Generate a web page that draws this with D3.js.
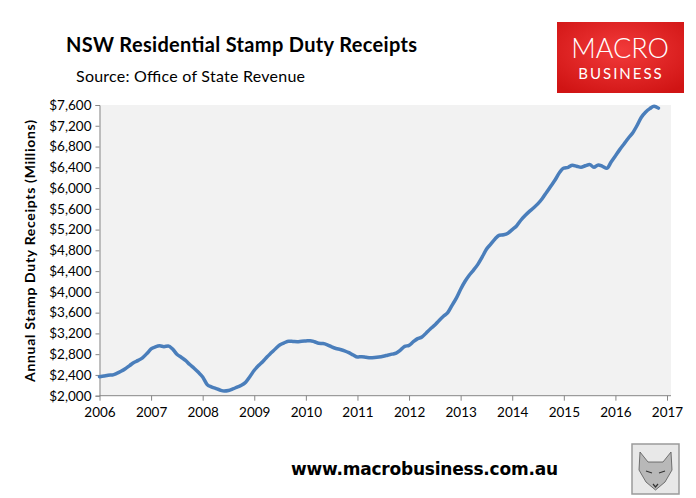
<!DOCTYPE html>
<html>
<head>
	<script src="https://cdn.jsdelivr.net/npm/d3@7"></script>
	<style>
		body { margin: 0; background: #fff; }
		text { font-family: Lato, "Open Sans", sans-serif; }
	</style>
</head>
<body>
	<script>
		// NSW residential stamp duty receipts, annual rolling, monthly ($m)
		var startYear = 2006;
		var receipts = [
			2366, 2380, 2395, 2400, 2430, 2470, 2520, 2580, 2640, 2680, 2730, 2810, // 2006
			2900, 2940, 2960, 2945, 2958, 2900, 2800, 2740, 2680, 2600, 2530, 2450, // 2007
			2360, 2220, 2170, 2140, 2110, 2090, 2100, 2130, 2165, 2200, 2260, 2370, // 2008
			2490, 2580, 2660, 2750, 2830, 2910, 2980, 3020, 3050, 3045, 3040, 3050, // 2009
			3055, 3060, 3040, 3010, 3005, 2980, 2940, 2910, 2890, 2865, 2830, 2785, // 2010
			2745, 2752, 2740, 2730, 2735, 2745, 2760, 2780, 2800, 2820, 2880, 2950, // 2011
			2970, 3040, 3100, 3130, 3210, 3290, 3360, 3450, 3530, 3600, 3740, 3880, // 2012
			4050, 4200, 4320, 4420, 4530, 4670, 4820, 4920, 5020, 5090, 5100, 5130, // 2013
			5200, 5270, 5380, 5470, 5550, 5620, 5700, 5800, 5920, 6040, 6160, 6300, // 2014
			6385, 6400, 6440, 6420, 6400, 6430, 6455, 6400, 6445, 6420, 6380, 6500, // 2015
			6620, 6740, 6850, 6960, 7060, 7200, 7360, 7460, 7530, 7575, 7540        // 2016
		];
		var yearTicks = [2006, 2007, 2008, 2009, 2010, 2011, 2012, 2013, 2014, 2015, 2016, 2017];
		var valueTicks = [2000, 2400, 2800, 3200, 3600, 4000, 4400, 4800, 5200, 5600, 6000, 6400, 6800, 7200, 7600];

		var width = 696, height = 498;

		var svg = d3.select('body').append('svg')
			.attr('width', width)
			.attr('height', height);

		var x = d3.scaleLinear().domain([2006, 2017]).range([99.5, 667]);
		var y = d3.scaleLinear().domain([2000, 7600]).range([395.7, 105]);

		// plot background
		svg.append('rect')
			.attr('x', x(2006))
			.attr('y', y(7600))
			.attr('width', 671 - x(2006))
			.attr('height', y(2000) - y(7600))
			.style('fill', '#f2f2f2');

		var fmt = function(d) { return '$' + d3.format(',')(d); };

		// y axis
		var yAxis = svg.append('g')
			.attr('transform', 'translate(' + x(2006) + ',0)')
			.call(d3.axisLeft(y).tickValues(valueTicks).tickFormat(fmt).tickSize(4).tickPadding(4));

		// x axis
		var xAxis = svg.append('g')
			.attr('transform', 'translate(0,' + y(2000) + ')')
			.call(d3.axisBottom(x).tickValues(yearTicks).tickFormat(d3.format('d')).tickSize(5).tickPadding(7));

		[yAxis, xAxis].forEach(function(a) {
			a.select('.domain').attr('stroke', '#868686');
			a.selectAll('.tick line').attr('stroke', '#868686');
			a.selectAll('.tick text')
				.style('font-size', '13.5px')
				.style('fill', '#000');
		});
		xAxis.select('.domain').attr('d', 'M' + x(2006) + ',0H671');

		// series line
		var line = d3.line()
			.x(function(d, i) { return x(startYear + i / 12); })
			.y(function(d) { return y(d); })
			.curve(d3.curveMonotoneX);

		svg.append('path')
			.datum(receipts)
			.attr('d', line)
			.style('fill', 'none')
			.style('stroke', '#4a7ebb')
			.style('stroke-width', 3.5)
			.style('stroke-linejoin', 'round')
			.style('stroke-linecap', 'round');

		// titles
		svg.append('text')
			.attr('x', 66).attr('y', 52)
			.attr('textLength', 351)
			.style('font-size', '20px')
			.style('font-weight', 'bold')
			.text('NSW Residential Stamp Duty Receipts');

		svg.append('text')
			.attr('x', 76).attr('y', 82)
			.attr('textLength', 229)
			.style('font-size', '16px')
			.text('Source: Office of State Revenue');

		svg.append('text')
			.attr('transform', 'translate(35,251) rotate(-90)')
			.attr('text-anchor', 'middle')
			.attr('textLength', 262)
			.style('font-size', '14px')
			.style('font-weight', 'bold')
			.text('Annual Stamp Duty Receipts (Millions)');

		svg.append('text')
			.attr('x', 291).attr('y', 475)
			.attr('textLength', 267)
			.style('font-family', '"DejaVu Sans", Verdana, sans-serif')
			.style('font-size', '17px')
			.style('font-weight', 'bold')
			.text('www.macrobusiness.com.au');

		// logo box
		var grad = svg.append('defs').append('radialGradient')
			.attr('id', 'logo-grad')
			.attr('cx', '50%').attr('cy', '40%').attr('r', '70%');
		grad.append('stop').attr('offset', '0%').attr('stop-color', '#f23a3a');
		grad.append('stop').attr('offset', '100%').attr('stop-color', '#d01414');

		svg.append('rect')
			.attr('x', 557).attr('y', 22)
			.attr('width', 127).attr('height', 71)
			.style('fill', 'url(#logo-grad)');

		svg.append('text')
			.attr('x', 620).attr('y', 58)
			.attr('text-anchor', 'middle')
			.style('font-size', '27px')
			.style('font-weight', '300')
			.style('fill', '#fff')
			.text('MACRO');

		svg.append('text')
			.attr('x', 621).attr('y', 79)
			.attr('text-anchor', 'middle')
			.style('font-size', '15px')
			.style('letter-spacing', '2px')
			.style('fill', '#fff')
			.text('BUSINESS');

		// small fox badge
		var badge = svg.append('g').attr('transform', 'translate(632,444)');
		badge.append('rect')
			.attr('width', 47).attr('height', 50)
			.style('fill', '#e8e8e8')
			.style('stroke', '#9a9a9a')
			.style('stroke-width', 1.5);
		badge.append('path')
			.attr('d', 'M8,8 L16,18 L31,18 L39,8 L40,26 L33,38 L23.5,46 L14,38 L7,26 Z')
			.style('fill', '#b8b8b8')
			.style('stroke', '#555')
			.style('stroke-width', 0.8);
		badge.append('path')
			.attr('d', 'M14,27 L20,29 M33,27 L27,29 M21,40 L23.5,43 L26,40')
			.style('fill', 'none')
			.style('stroke', '#333')
			.style('stroke-width', 1.2);
	</script>
</body>
</html>
